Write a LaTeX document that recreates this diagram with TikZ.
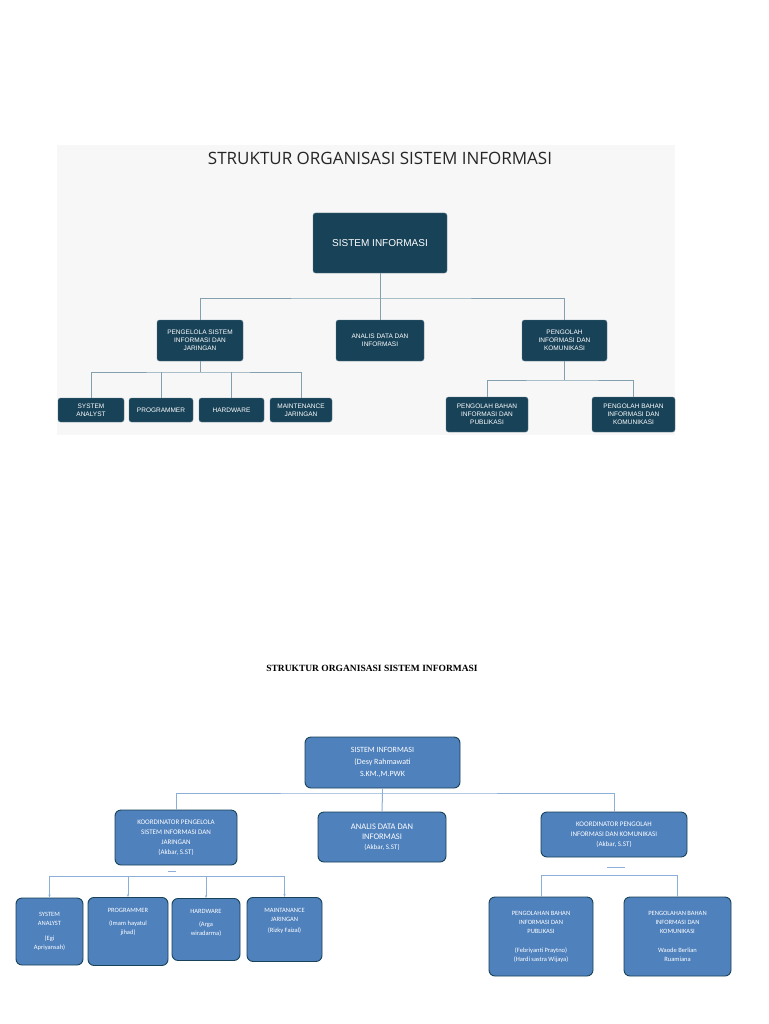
\documentclass[tikz,border=0pt]{standalone}
\usepackage{fontspec}
\setmainfont{Carlito}
\newfontfamily\topf{Liberation Sans}
\newfontfamily\titf{Open Sans}
\newfontfamily\serf{Liberation Serif}
\usetikzlibrary{arrows.meta}
\definecolor{teal}{RGB}{24,66,88}
\definecolor{bblue}{RGB}{79,129,189}
\definecolor{bline}{RGB}{140,175,215}
\definecolor{tline}{RGB}{130,160,175}
\begin{document}
\begin{tikzpicture}[x=1pt,y=-1pt,
  tb/.style={fill=teal,draw=teal!70!white,rounded corners=2.5pt,text=white,align=center,font=\topf\fontsize{6.5}{8}\selectfont,inner sep=0pt},
  bb/.style={fill=bblue,draw=teal,line width=0.9pt,rounded corners=6pt,text=white,align=center,font=\fontsize{7}{10}\selectfont,inner sep=0pt},
  tl/.style={draw=tline,line width=0.7pt},
  bl/.style={draw=bline,line width=1pt}]
\useasboundingbox (0,0) rectangle (768,1024);
\fill[white] (0,0) rectangle (768,1024);
\fill[black!3] (57,145) rectangle (675,435);
% top diagram
\node[font=\titf\fontsize{17}{20}\selectfont,text=black!85] (t1) at (380,158) {STRUKTUR ORGANISASI SISTEM INFORMASI};
\node[tb,minimum width=134,minimum height=60,font=\topf\fontsize{10}{12}\selectfont] (a) at (380,243) {SISTEM INFORMASI};
\node[tb,minimum width=86,minimum height=41] (b1) at (200,340.5) {PENGELOLA SISTEM\\INFORMASI DAN\\JARINGAN};
\node[tb,minimum width=88,minimum height=41] (b2) at (380,340.5) {ANALIS DATA DAN\\INFORMASI};
\node[tb,minimum width=85,minimum height=41] (b3) at (564.5,340.5) {PENGOLAH\\INFORMASI DAN\\KOMUNIKASI};
\node[tb,minimum width=66,minimum height=24] (c1) at (91,410) {SYSTEM\\ANALYST};
\node[tb,minimum width=64,minimum height=24] (c2) at (161,410) {PROGRAMMER};
\node[tb,minimum width=65,minimum height=24] (c3) at (231.5,410) {HARDWARE};
\node[tb,minimum width=62,minimum height=24] (c4) at (301,410) {MAINTENANCE\\JARINGAN};
\node[tb,minimum width=82,minimum height=35] (d1) at (487,414.5) {PENGOLAH BAHAN\\INFORMASI DAN\\PUBLIKASI};
\node[tb,minimum width=83,minimum height=35] (d2) at (633.5,414.5) {PENGOLAH BAHAN\\INFORMASI DAN\\KOMUNIKASI};
\coordinate (ta) at (380,298);
\draw[tl] (a.south) -- (b2.north);
\draw[tl] (b1.north) |- (ta) -| (b3.north);
\coordinate (tb1) at (200,372);
\draw[tl] (b1.south) -- (tb1);
\draw[tl] (c1.north) |- (tb1) -| (c4.north);
\draw[tl] (c2.north) -- (c2.north|-tb1);
\draw[tl] (c3.north) -- (c3.north|-tb1);
\coordinate (tb3) at (564.5,380);
\draw[tl] (b3.south) -- (tb3);
\draw[tl] (d1.north) |- (tb3) -| (d2.north);
% bottom diagram
\node[font=\serf\bfseries\fontsize{9.5}{11}\selectfont] (t2) at (372,668) {STRUKTUR ORGANISASI SISTEM INFORMASI};
\node[bb,minimum width=155,minimum height=51,font=\fontsize{8}{12}\selectfont] (A) at (382.5,762.5) {SISTEM INFORMASI\\(Desy Rahmawati\\S.KM.,M.PWK};
\node[bb,minimum width=122,minimum height=55] (B1) at (176,837.5) {KOORDINATOR PENGELOLA\\SISTEM INFORMASI DAN\\JARINGAN\\(Akbar, S.ST)};
\node[bb,minimum width=128,minimum height=50] (B2) at (382,837) {{\fontsize{8.5}{10}\selectfont ANALIS DATA DAN}\\{\fontsize{8.5}{10}\selectfont INFORMASI}\\(Akbar, S.ST)};
\node[bb,minimum width=146,minimum height=45] (B3) at (614,834.5) {KOORDINATOR PENGOLAH\\INFORMASI DAN KOMUNIKASI\\(Akbar, S.ST)};
\node[bb,minimum width=67,minimum height=67,font=\fontsize{6.5}{9}\selectfont] (C1) at (49.5,931.5) {SYSTEM\\ANALYST\\[6pt](Egi\\Apriyansah)};
\node[bb,minimum width=80,minimum height=68,font=\fontsize{6.5}{9}\selectfont,anchor=north] (C2) at (128,897) {\\[-4pt]PROGRAMMER\\[4pt](Imam hayatul\\jihad)\\[12pt]};
\node[bb,minimum width=68,minimum height=62,font=\fontsize{6.5}{9}\selectfont,anchor=north] (C3) at (206,898) {\\[-4pt]HARDWARE\\[4pt](Arga\\wiradarma)\\[6pt]};
\node[bb,minimum width=75,minimum height=64,font=\fontsize{6.5}{9}\selectfont,anchor=north] (C4) at (284.5,897) {\\[-4pt]MAINTANANCE\\JARINGAN\\[2pt](Rizky Faizal)\\[10pt]};
\node[bb,minimum width=104,minimum height=79,font=\fontsize{6.5}{9}\selectfont] (D1) at (541,936.5) {PENGOLAHAN BAHAN\\INFORMASI DAN\\PUBLIKASI\\[10pt](Febriyanti Praytno)\\(Hardi sastra Wijaya)};
\node[bb,minimum width=107,minimum height=79,font=\fontsize{6.5}{9}\selectfont] (D2) at (677.5,936.5) {PENGOLAHAN BAHAN\\INFORMASI DAN\\KOMUNIKASI\\[10pt]Waode Berlian\\Ruamiana};
\coordinate (ba) at (382.5,793);
\draw[bl] (A.south) -- (ba);
\draw[bl] (B1.north) |- (ba) -| (B3.north);
\draw[bl] (ba) -- (B2.north);
\coordinate (m1) at (172,871);
\coordinate (m2) at (616,867);
\draw[bl] ([xshift=-4]m1) -- ([xshift=4]m1);
\draw[bl] ([xshift=-9]m2) -- ([xshift=9]m2);
\coordinate (bb1) at (170,876);
\draw[bl,-{Stealth[length=3pt]}] (bb1) -| (C1.north);
\draw[bl,-{Stealth[length=3pt]}] (bb1) -| (C4.north);
\draw[bl,-{Stealth[length=3pt]}] (C2.north|-bb1) -- (C2.north);
\draw[bl,-{Stealth[length=3pt]}] (C3.north|-bb1) -- (C3.north);
\coordinate (bb3) at (610,875);
\draw[bl] (bb3) -| (D1.north);
\draw[bl] (bb3) -| (D2.north);
\end{tikzpicture}
\end{document}
